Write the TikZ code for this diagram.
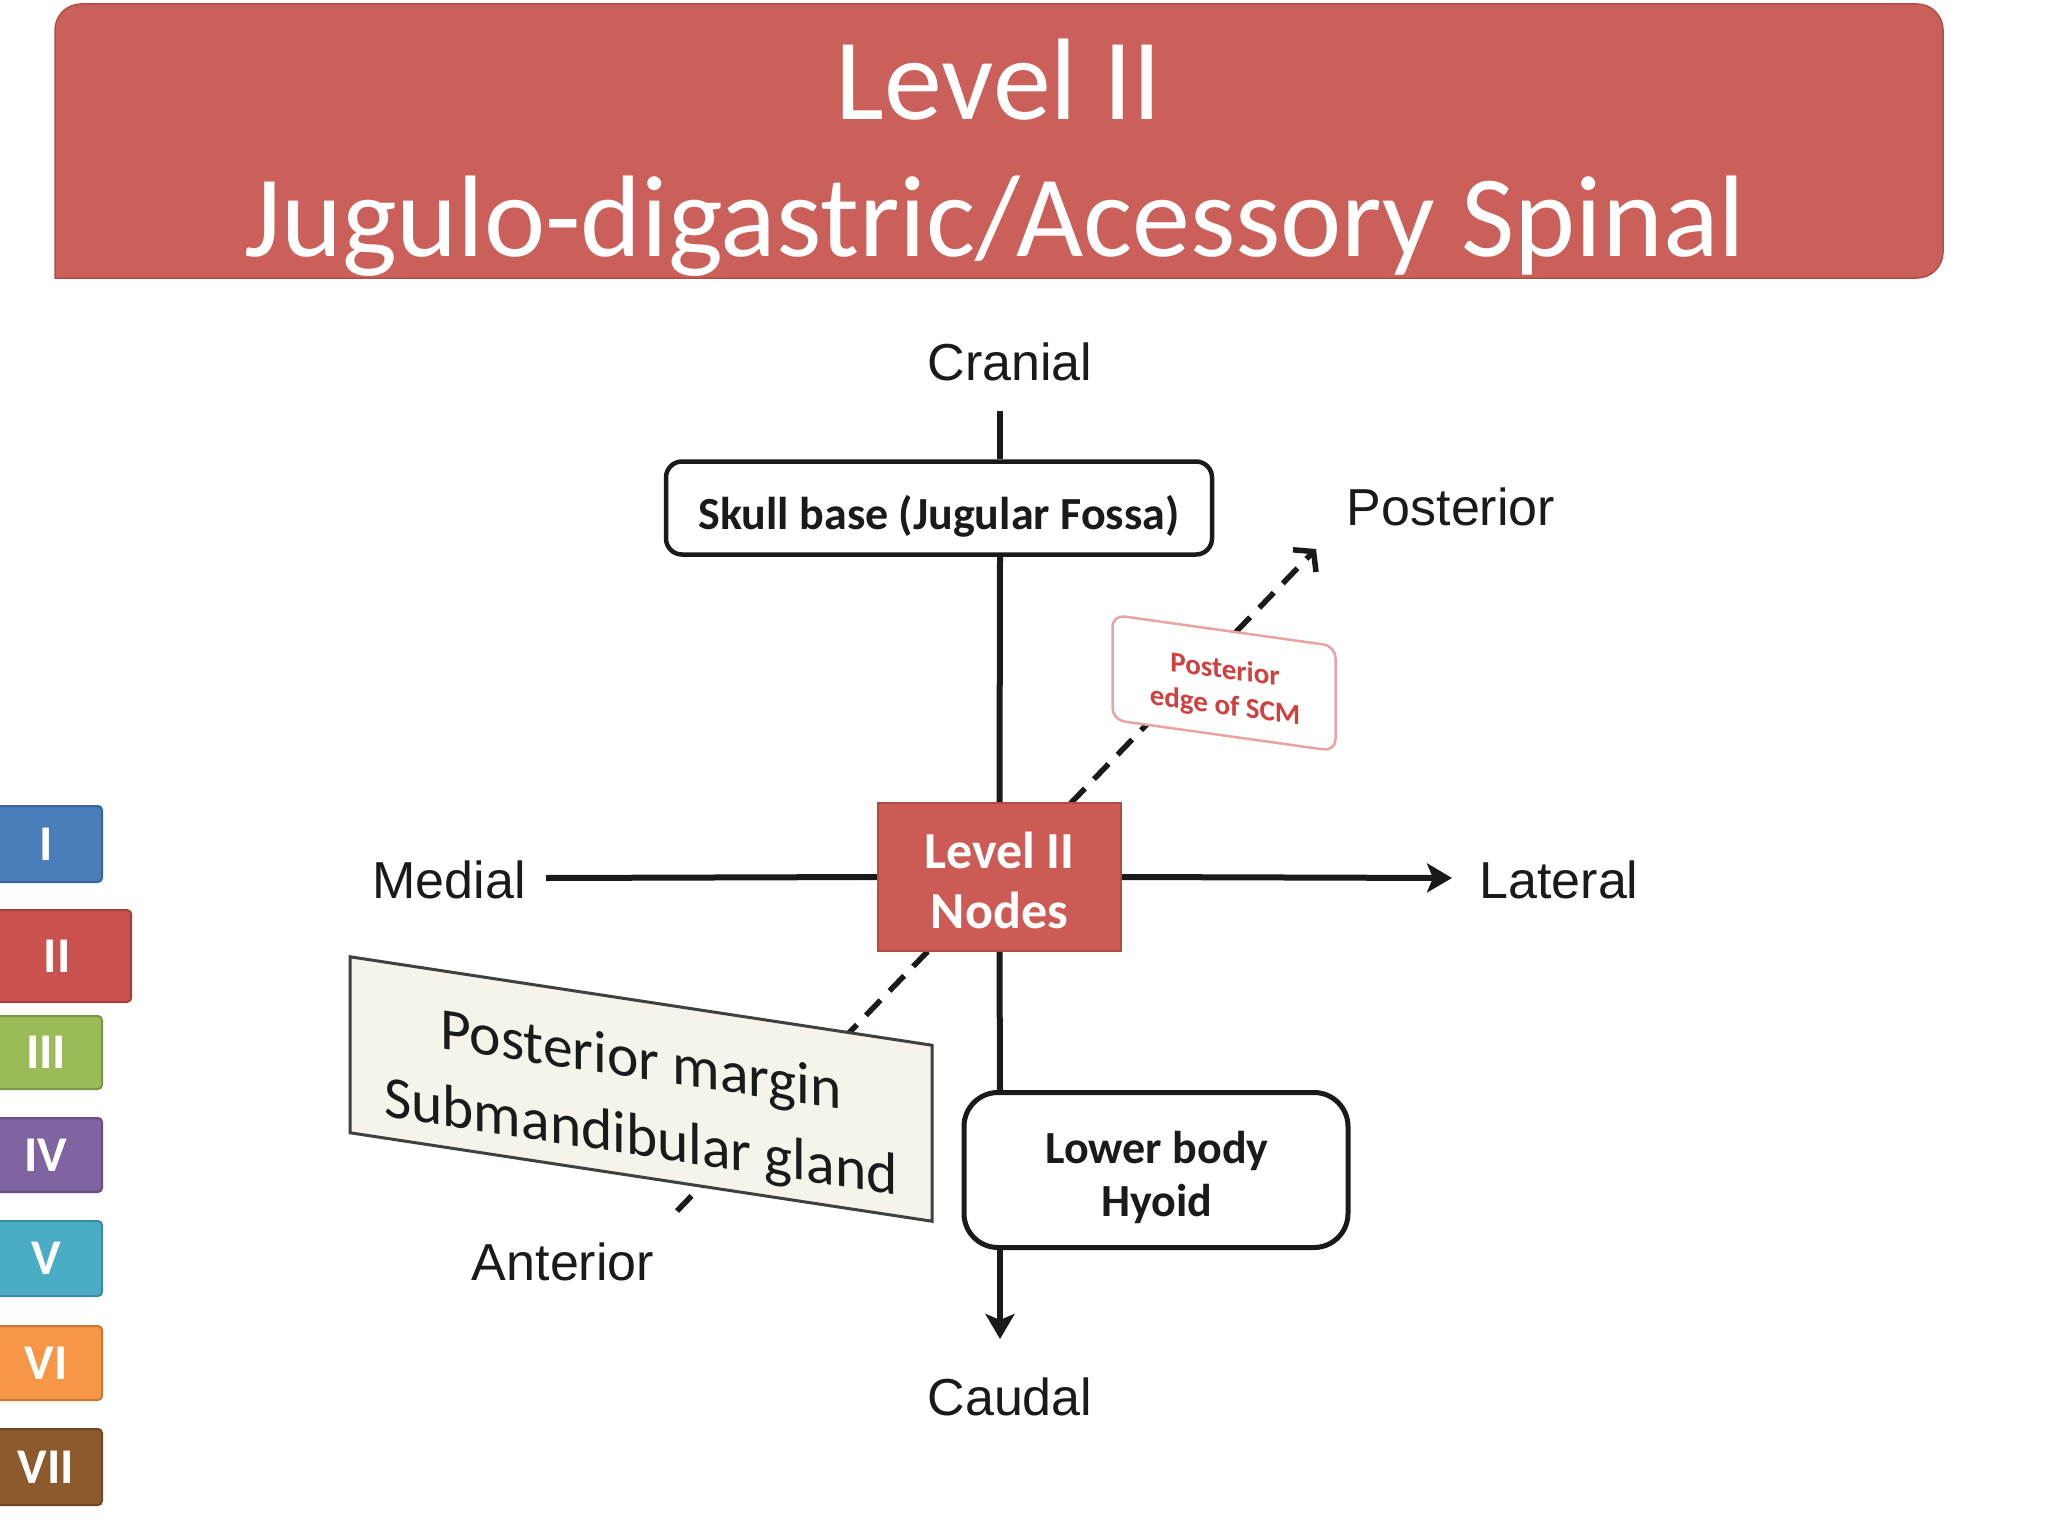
\documentclass[tikz,border=0pt]{standalone}
\usepackage{fontspec}
\setmainfont{Liberation Sans}
\newfontfamily\calib{Carlito}
\newfontfamily\arialf{Liberation Sans}
\usetikzlibrary{arrows.meta}
\pgfdeclarelayer{bglayer}
\pgfdeclarelayer{linelayer}
\pgfsetlayers{bglayer,linelayer,main}
\definecolor{bannerred}{HTML}{CB5F5A}
\definecolor{bannerdark}{HTML}{B04E49}
\definecolor{lvlred}{HTML}{CD5B55}
\definecolor{lvldark}{HTML}{B44843}
\definecolor{scmred}{HTML}{D0403F}
\definecolor{scmpink}{HTML}{E9A3A3}
\definecolor{cream}{HTML}{F5F3EA}
\definecolor{inkc}{HTML}{1A1A1A}
\definecolor{tabI}{HTML}{4A7EBB}
\definecolor{tabII}{HTML}{C9524F}
\definecolor{tabIII}{HTML}{9BBB59}
\definecolor{tabIV}{HTML}{8064A2}
\definecolor{tabV}{HTML}{4BACC6}
\definecolor{tabVI}{HTML}{F79646}
\definecolor{tabVII}{HTML}{8C5A2D}
\begin{document}
\begin{tikzpicture}[x=1pt,y=-1pt,
  titletext/.style={text=white,inner sep=0pt,font=\calib\fontsize{116}{139}\selectfont},
  lab/.style={text=inkc,inner sep=0pt,font=\arialf\fontsize{52}{62}\selectfont},
  axis/.style={draw=inkc,line width=6pt,-{Stealth[length=25pt,width=29pt,inset=6pt]}},
  axisplain/.style={draw=inkc,line width=6pt},
  dashln/.style={draw=inkc,line width=5.5pt,dash pattern=on 21pt off 13pt},
  dasharr/.style={draw=inkc,line width=5.5pt,dash pattern=on 21pt off 13pt,
     -{Straight Barb[length=13pt,width=32pt,line width=5.5pt]}},
  whitebox/.style={draw=inkc,fill=white,line width=4.5pt,inner sep=0pt},
  boxtext/.style={inner sep=0pt,align=center,text=inkc,
     font=\calib\bfseries\fontsize{46}{53}\selectfont},
  lvlbox/.style={draw=lvldark,fill=lvlred,line width=2pt,inner sep=0pt,
     minimum width=243pt,minimum height=148pt},
  lvltext/.style={inner sep=0pt,align=center,text=white,
     font=\calib\bfseries\fontsize{52}{60}\selectfont},
  scmbox/.style={draw=scmpink,fill=white,line width=2.5pt,rounded corners=12pt,inner sep=0pt,
     minimum width=223pt,minimum height=105pt,yslant=-0.14},
  scmtext/.style={inner sep=0pt,align=center,text=scmred,
     font=\calib\bfseries\fontsize{29}{36}\selectfont,yslant=-0.14},
  pmbox/.style={draw=black!75,fill=cream,line width=3pt,inner sep=0pt,
     minimum width=582pt,minimum height=176pt,yslant=-0.152},
  pmtext/.style={inner sep=0pt,align=center,text=inkc,
     font=\calib\fontsize{59.5}{77}\selectfont,yslant=-0.152},
  tab/.style={inner sep=0pt,line width=2pt,rounded corners=4pt,text=white,
     font=\calib\bfseries\fontsize{50}{60}\selectfont,minimum height=76pt}
]
\begin{pgfonlayer}{bglayer}
  \fill[white] (0,0) rectangle (2048,1536);
\end{pgfonlayer}
\useasboundingbox (0,0) rectangle (2048,1536);

% title banner
\path[fill=bannerred,draw=bannerdark,line width=1.5pt]
  (55,278) [rounded corners=26pt] -- (55,4) -- (1943,4) -- (1943,278) -- (1000,278)
  [sharp corners] -- cycle;
\node[titletext,anchor=base] (title1) at (999,120) {Level II};
\node[titletext,anchor=base] (title2) at (995,256) {Jugulo-digastric/Acessory Spinal};

% direction labels
\node[lab] (cranial) at (1010,362) {Cranial};
\node[lab] (posterior) at (1451,507) {Posterior};
\node[lab] (medial) at (449,880) {Medial};
\node[lab] (lateral) at (1559,880) {Lateral};
\node[lab] (caudal) at (1010,1397) {Caudal};
\node[lab] (anterior) at (563,1262) {Anterior};

% boxes
\node[whitebox,rounded corners=16pt,minimum width=546pt,minimum height=93pt]
  (skull) at (939,508) {};
\node[boxtext] (skulltext) at (939,516) {Skull base (Jugular Fossa)};
\node[lvlbox] (lvl) at (999.5,877) {};
\node[lvltext] (lvltext) at (999.5,880) {Level II\\Nodes};
\node[whitebox,line width=5pt,rounded corners=34pt,minimum width=384pt,minimum height=155pt]
  (lower) at (1156,1170) {};
\node[boxtext] (lowertext) at (1157,1177) {Lower body\\Hyoid};
\node[scmbox] (scm) at (1224,683) {};
\node[scmtext] (scmtext) at (1225,689) {Posterior\\edge of SCM};
\node[pmbox] (pmbox) at (641,1089) {};
\node[pmtext] (pmtext) at (641,1102) {Posterior margin\\Submandibular gland};

% connector end points
\coordinate (vtop) at (1000,411);
\coordinate (vbot) at (1000,1339);
\coordinate (hleft) at (546,878);
\coordinate (hright) at (1452,878);
\coordinate (antEnd) at (677,1211);
\coordinate (postTip) at (1316,549);

\begin{pgfonlayer}{linelayer}
  \draw[axisplain] (vtop) -- (skull.north -| vtop);
  \draw[axisplain] (skull.south -| vtop) -- (lvl.north);
  \draw[axisplain] (lvl.south) -- (lower.north -| vtop);
  \draw[axis] (lower.south -| vtop) -- (vbot);
  \draw[axisplain] (hleft) -- (lvl.west);
  \draw[axis] (lvl.east) -- (hright);
  \draw[dashln] (antEnd) -- (lvl.center);
  \draw[dasharr] (lvl.center) -- (postTip);
\end{pgfonlayer}

% level tabs
\node[tab,fill=tabI,draw=tabI!80!black,minimum width=112pt] (tI) at (46,844) {I};
\node[tab,fill=tabII,draw=tabII!80!black,minimum width=141pt,minimum height=92pt] (tII) at (60.5,956) {\hspace*{-7pt}II};
\node[tab,fill=tabIII,draw=tabIII!80!black,minimum width=112pt,minimum height=73pt] (tIII) at (46,1052.5) {III};
\node[tab,fill=tabIV,draw=tabIV!80!black,minimum width=112pt,minimum height=74pt] (tIV) at (46,1155) {IV};
\node[tab,fill=tabV,draw=tabV!80!black,minimum width=112pt,minimum height=75pt] (tV) at (46,1258.5) {V};
\node[tab,fill=tabVI,draw=tabVI!80!black,minimum width=112pt,minimum height=74pt] (tVI) at (46,1363) {VI};
\node[tab,fill=tabVII,draw=tabVII!80!black,minimum width=112pt] (tVII) at (46,1467) {VII};
\end{tikzpicture}
\end{document}
